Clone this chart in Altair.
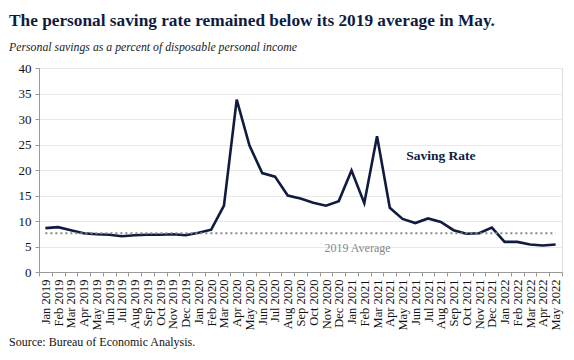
import altair as alt
import pandas as pd

months = ["Jan", "Feb", "Mar", "Apr", "May", "Jun", "Jul", "Aug", "Sep", "Oct", "Nov", "Dec"]
labels = [f"{m} {y}" for y in (2019, 2020, 2021) for m in months] + [f"{m} 2022" for m in months[:5]]
rate = [8.6, 8.8, 8.2, 7.6, 7.4, 7.3, 7.0, 7.2, 7.3, 7.3, 7.4, 7.2,
        7.7, 8.3, 13.0, 33.8, 24.8, 19.4, 18.7, 15.0, 14.4, 13.6, 13.0, 13.9,
        19.9, 13.5, 26.6, 12.6, 10.4, 9.6, 10.5, 9.8, 8.2, 7.5, 7.6, 8.7,
        5.9, 5.9, 5.4, 5.2, 5.4]
avg_2019 = 7.6

df = pd.DataFrame({"month": labels, "rate": rate, "avg": [avg_2019] * len(labels)})

FONT = "Liberation Serif"
NAVY = "#0f1c3f"
W, H = 523, 204

xenc = alt.X("month:N", sort=labels, title=None,
             scale=alt.Scale(type="band", paddingInner=0, paddingOuter=0),
             axis=alt.Axis(labelAngle=-90, labelFont=FONT, labelFontSize=12.5, labelColor="#111",
                           tickBand="extent", domainColor="#999", tickColor="#999", tickSize=4,
                           labelPadding=3, grid=False, labelOverlap=False))

yaxis = alt.Axis(values=list(range(0, 41, 5)), labelFont=FONT, labelFontSize=13,
                 labelColor="#111", domainColor="#999", tickColor="#999", tickSize=4,
                 gridColor="#e8e8e8", labelPadding=4, labelOverlap=False)
yscale = alt.Scale(domain=[0, 40])

base = alt.Chart(df).encode(x=xenc)

line = base.mark_line(color=NAVY, strokeWidth=2.6).encode(
    y=alt.Y("rate:Q", title=None, scale=yscale, axis=yaxis)
)

avg = base.mark_line(color="#888", strokeWidth=2, strokeDash=[2, 3]).encode(
    y=alt.Y("avg:Q", title=None, scale=yscale, axis=yaxis)
)

avg_label = alt.Chart(pd.DataFrame({"month": ["Jan 2021"], "v": [avg_2019], "t": ["2019 Average"]})).mark_text(
    font=FONT, fontSize=12, color="#888", dy=15, dx=6
).encode(x=alt.X("month:N", sort=labels), y=alt.Y("v:Q", scale=yscale, axis=yaxis, title=None), text="t:N")

series_label = alt.Chart(pd.DataFrame({"month": ["Aug 2021"], "v": [22.8], "t": ["Saving Rate"]})).mark_text(
    font=FONT, fontSize=13.5, fontWeight="bold", color=NAVY
).encode(x=alt.X("month:N", sort=labels), y=alt.Y("v:Q", scale=yscale, axis=yaxis, title=None), text="t:N")

source = alt.Chart(pd.DataFrame({"t": ["Source: Bureau of Economic Analysis."]})).mark_text(
    font=FONT, fontSize=12, color="#111", align="left", baseline="middle"
).encode(x=alt.value(-30), y=alt.value(H + 70), text="t:N")

chart = alt.layer(line, avg, avg_label, series_label, source).properties(
    width=W, height=H,
    title=alt.TitleParams(
        "The personal saving rate remained below its 2019 average in May.",
        subtitle="Personal savings as a percent of disposable personal income",
        anchor="start", frame="group", dx=-30, offset=8,
        font=FONT, fontSize=17.3, fontWeight="bold", color=NAVY,
        subtitleFont=FONT, subtitleFontSize=11.8, subtitleFontStyle="italic", subtitleColor="#222",
        subtitlePadding=13
    ),
    autosize=alt.AutoSizeParams(type="none"),
    padding={"left": 31, "top": 60, "right": 4, "bottom": 80}
).configure_view(stroke=None).configure(background="white")

chart.save("out.html", embed_options={"renderer": "svg", "actions": False})
